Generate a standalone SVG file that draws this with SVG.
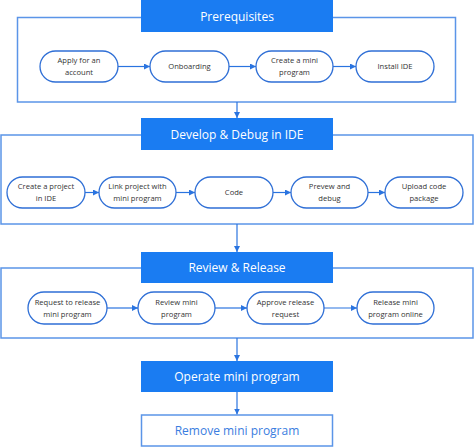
<svg xmlns="http://www.w3.org/2000/svg" width="474" height="447" viewBox="0 0 474 447">
<defs>
<marker id="ah" viewBox="0 0 6 6" refX="6" refY="3" markerWidth="6" markerHeight="6" markerUnits="userSpaceOnUse" orient="auto">
<path d="M0,0 L6,3 L0,6 z" fill="#2a74e0"/>
</marker>
<style>
.frame{fill:#fff;stroke:#5b95e8;stroke-width:1.5}
.hdr{fill:#1a7cf2}
.ht{fill:#fff;font-family:"Open Sans","Noto Sans",sans-serif;font-size:12px;text-anchor:middle}
.nd{fill:#fff;stroke:#2f6fd6;stroke-width:1.3}
.nt{fill:#333;font-family:"Open Sans","Noto Sans",sans-serif;font-size:7.6px;text-anchor:middle}
.cn{stroke:#2a74e0;stroke-width:1.2;fill:none;marker-end:url(#ah)}
.rm{fill:#fff;stroke:#5b95e8;stroke-width:1.5}
.rt{fill:#3a7de0;font-family:"Open Sans","Noto Sans",sans-serif;font-size:12px;text-anchor:middle}
</style>
</defs>
<rect width="474" height="447" fill="#fff"/>
<g id="frame-prereq"><rect class="frame" x="17.5" y="17.5" width="438" height="84.5"/></g>
<g id="frame-dev"><rect class="frame" x="1" y="135" width="472" height="89"/></g>
<g id="frame-review"><rect class="frame" x="1" y="268" width="472" height="70"/></g>

<g id="connectors">
<line class="cn" x1="237" y1="102" x2="237" y2="118"/>
<line class="cn" x1="237" y1="224" x2="237" y2="252"/>
<line class="cn" x1="237" y1="338" x2="237" y2="361"/>
<line class="cn" x1="237" y1="392" x2="237" y2="414.5"/>
<line class="cn" x1="118" y1="66.5" x2="150" y2="66.5"/>
<line class="cn" x1="229" y1="66.5" x2="256" y2="66.5"/>
<line class="cn" x1="333" y1="66.5" x2="356" y2="66.5"/>
<line class="cn" x1="85" y1="192.5" x2="99" y2="192.5"/>
<line class="cn" x1="176" y1="192.5" x2="195" y2="192.5"/>
<line class="cn" x1="273" y1="192.5" x2="291" y2="192.5"/>
<line class="cn" x1="368" y1="192.5" x2="385" y2="192.5"/>
<line class="cn" x1="107" y1="308" x2="138" y2="308"/>
<line class="cn" x1="215" y1="308" x2="247" y2="308"/>
<line class="cn" x1="324" y1="308" x2="357" y2="308"/>
</g>

<g id="hdr-prereq"><rect class="hdr" x="141" y="0" width="192" height="32"/><text class="ht" x="237" y="20.5">Prerequisites</text></g>
<g id="hdr-dev"><rect class="hdr" x="141" y="118" width="192" height="32"/><text class="ht" x="237" y="138.5">Develop &amp; Debug in IDE</text></g>
<g id="hdr-review"><rect class="hdr" x="141" y="252" width="192" height="31"/><text class="ht" x="237" y="271.5">Review &amp; Release</text></g>
<g id="hdr-operate"><rect class="hdr" x="141" y="361" width="192" height="31"/><text class="ht" x="237" y="380.5">Operate mini program</text></g>
<g id="remove"><rect class="rm" x="141.5" y="415" width="191" height="31"/><text class="rt" x="237" y="435">Remove mini program</text></g>

<g id="n-apply"><rect class="nd" x="40" y="51" width="78" height="31" rx="15.5"/><text class="nt" x="79" y="63">Apply for an</text><text class="nt" x="79" y="75">account</text></g>
<g id="n-onboard"><rect class="nd" x="150" y="51" width="79" height="31" rx="15.5"/><text class="nt" x="189.5" y="69">Onboarding</text></g>
<g id="n-create"><rect class="nd" x="256" y="51" width="77" height="31" rx="15.5"/><text class="nt" x="294.5" y="63">Create a mini</text><text class="nt" x="294.5" y="75">program</text></g>
<g id="n-install"><rect class="nd" x="356" y="51" width="78" height="31" rx="15.5"/><text class="nt" x="395" y="69">Install IDE</text></g>

<g id="n-project"><rect class="nd" x="7" y="177" width="78" height="31" rx="15.5"/><text class="nt" x="46" y="189">Create a project</text><text class="nt" x="46" y="201">in IDE</text></g>
<g id="n-link"><rect class="nd" x="99" y="177" width="77" height="31" rx="15.5"/><text class="nt" x="137.5" y="189">Link project with</text><text class="nt" x="137.5" y="201">mini program</text></g>
<g id="n-code"><rect class="nd" x="195" y="177" width="78" height="31" rx="15.5"/><text class="nt" x="234" y="195">Code</text></g>
<g id="n-preview"><rect class="nd" x="291" y="177" width="77" height="31" rx="15.5"/><text class="nt" x="329.5" y="189">Prevew and</text><text class="nt" x="329.5" y="201">debug</text></g>
<g id="n-upload"><rect class="nd" x="385" y="177" width="78" height="31" rx="15.5"/><text class="nt" x="424" y="189">Upload code</text><text class="nt" x="424" y="201">package</text></g>

<g id="n-request"><rect class="nd" x="28" y="292" width="79" height="32" rx="16"/><text class="nt" x="67.5" y="304.5">Request to release</text><text class="nt" x="67.5" y="316.5">mini program</text></g>
<g id="n-reviewmp"><rect class="nd" x="138" y="292" width="77" height="32" rx="16"/><text class="nt" x="176.5" y="304.5">Review mini</text><text class="nt" x="176.5" y="316.5">program</text></g>
<g id="n-approve"><rect class="nd" x="247" y="292" width="77" height="32" rx="16"/><text class="nt" x="285.5" y="304.5">Approve release</text><text class="nt" x="285.5" y="316.5">request</text></g>
<g id="n-releasemp"><rect class="nd" x="357" y="292" width="77" height="32" rx="16"/><text class="nt" x="395.5" y="304.5">Release mini</text><text class="nt" x="395.5" y="316.5">program online</text></g>
</svg>
